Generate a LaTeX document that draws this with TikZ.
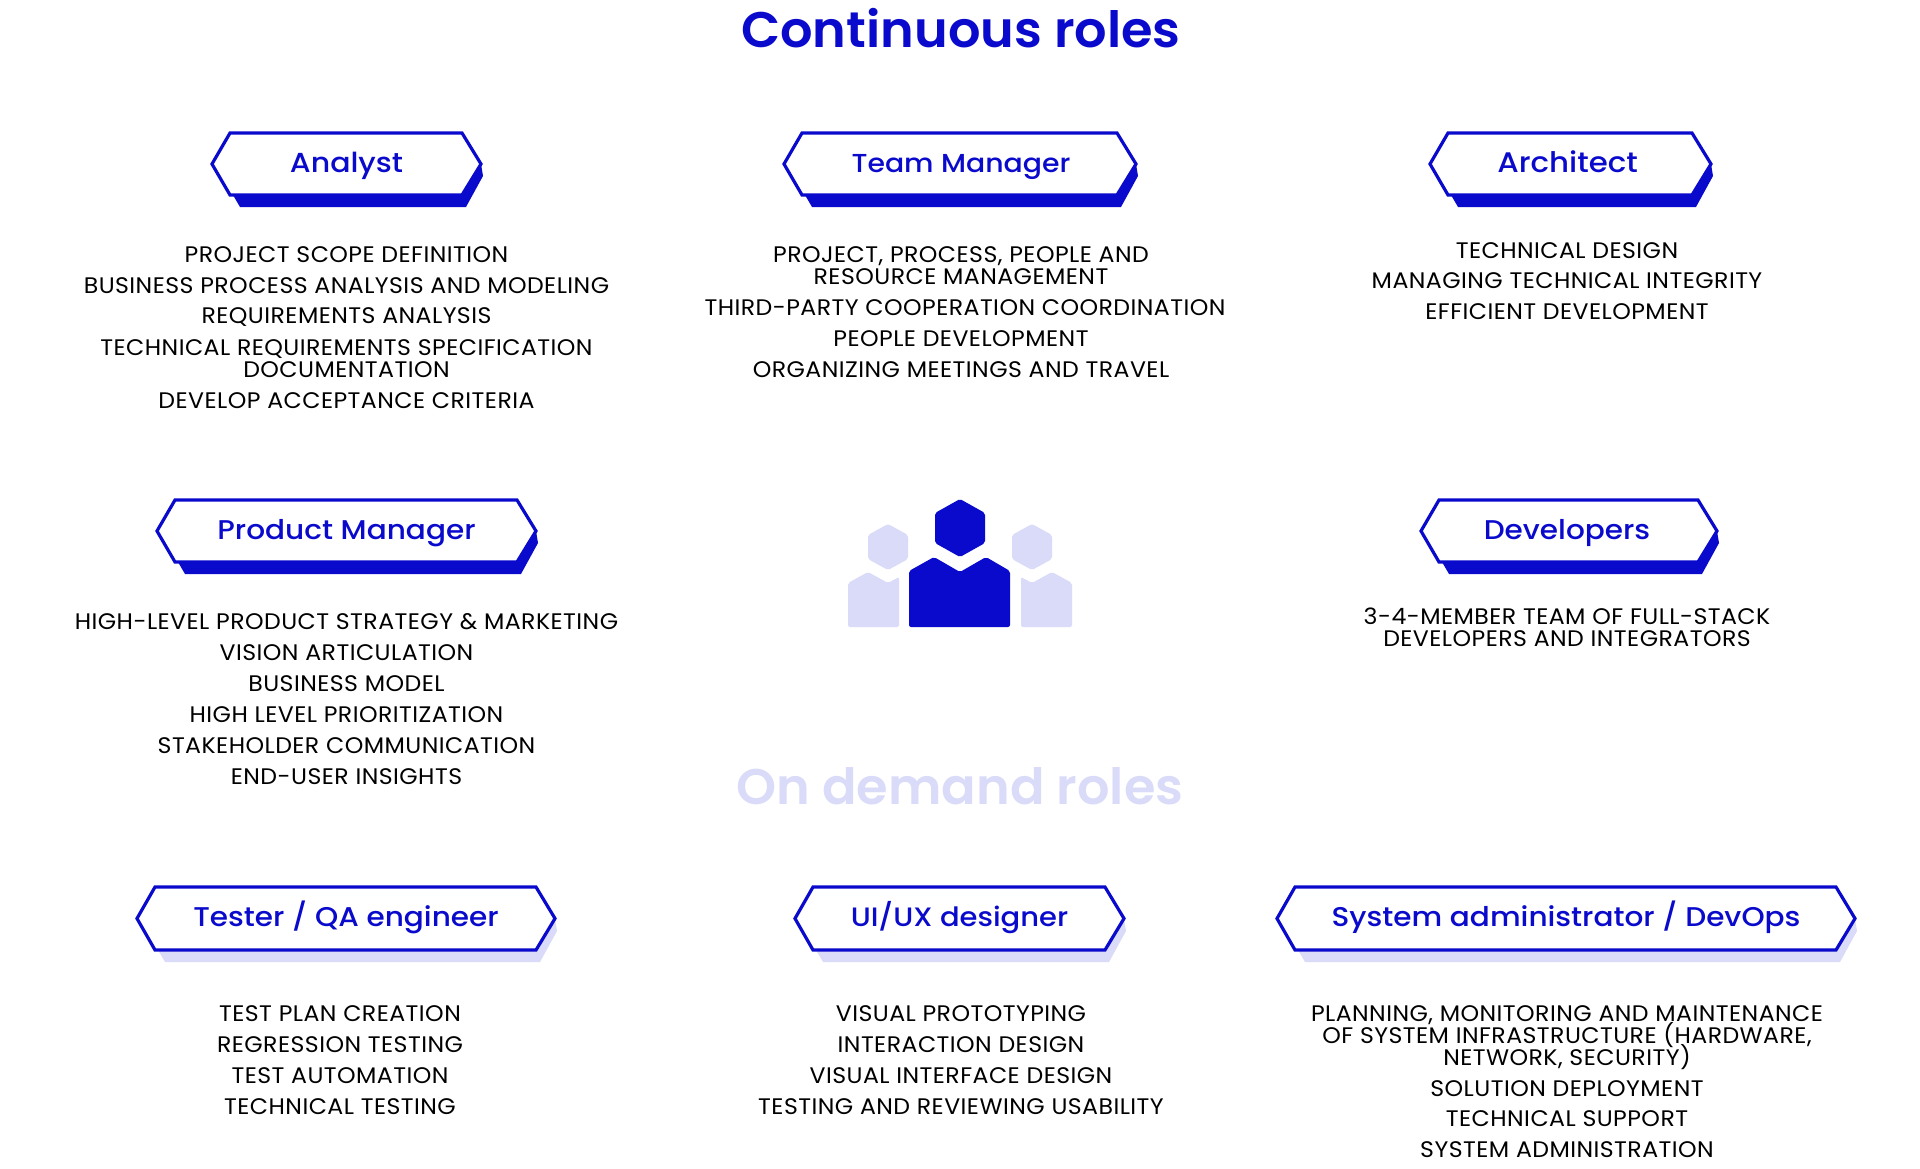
\documentclass[tikz,border=0pt]{standalone}
\usepackage{fontspec}
\setmainfont{Poppins}
\newfontfamily\itemf[FakeStretch=1.05,LetterSpace=2]{Poppins}
\newfontfamily\rolef[FakeStretch=1.09]{Poppins Medium}
\newfontfamily\headf[FakeStretch=1.02]{Poppins SemiBold}
\definecolor{rb}{HTML}{0A0ACC}
\definecolor{rl}{HTML}{D9DBF8}
\lineskiplimit=-20pt
\newcommand{\hexbox}[8]{% name left right top bottom shadow dx text
 \fill[#6] (#2+21,#5) -- (#2+28,#5+12) -- (#3-15,#5+12) -- (#3+2,#5-19) -- (#3,#5-31) -- cycle;
 \draw[rb,line width=3.2pt,fill=white,line join=miter] (#2,#4/2+#5/2) -- (#2+18,#4) -- (#3-19,#4) -- (#3,#4/2+#5/2) -- (#3-19,#5) -- (#2+18,#5) -- cycle;
 \node[role] (#1) at ({(#2+#3)/2+#7},{#4+39.5}) {#8};}
\newcommand{\rsize}[1]{\fontsize{#1}{30}\selectfont}
\tikzset{x=1pt,y=-1pt,
 role/.style={text=rb,font=\rolef\fontsize{27.1}{30}\selectfont,inner sep=0pt,anchor=base},
 item/.style={text=black,font=\itemf\fontsize{22.5}{22}\selectfont,align=center,inner sep=0pt,anchor=center},
 head/.style={text=#1,font=\headf\fontsize{50}{54}\selectfont,inner sep=0pt,anchor=center},
 ico/.style={fill=#1,rounded corners=2pt}}
\begin{document}
\begin{tikzpicture}
\useasboundingbox (0,0) rectangle (1920,1168);
\node[head=rb] (t1) at (961,28.5) {Continuous roles};
\node[head=rl] (t2) at (960,786) {On demand roles};
\hexbox{analyst}{212}{481}{133}{195}{rb}{0}{\rsize{27.5}Analyst}
\hexbox{team}{784}{1136}{133}{195}{rb}{1}{\rsize{26}Team Manager}
\hexbox{arch}{1430}{1711}{133}{195}{rb}{-3}{\rsize{28.3}Architect}
\hexbox{pm}{157}{536}{500}{562}{rb}{0}{Product Manager}
\hexbox{dev}{1421}{1717}{500}{562}{rb}{-2}{Developers}
\hexbox{qa}{137}{555}{887}{950}{rl}{0}{Tester / QA engineer}
\hexbox{ux}{795}{1124}{887}{950}{rl}{0}{\rsize{26.6}UI/UX designer}
\hexbox{sys}{1277}{1855}{887}{950}{rl}{0}{System administrator / DevOps}
% analyst
\node[item] (a1) at (346.5,255) {PROJECT SCOPE DEFINITION};
\node[item] (a2) at (346.5,286) {BUSINESS PROCESS ANALYSIS AND MODELING};
\node[item] (a3) at (346.5,317) {REQUIREMENTS ANALYSIS};
\node[item] (a4) at (346.5,359) {TECHNICAL REQUIREMENTS SPECIFICATION\\DOCUMENTATION};
\node[item] (a5) at (346.5,401) {DEVELOP ACCEPTANCE CRITERIA};
% team
\node[item] (b1) at (961,266) {PROJECT, PROCESS, PEOPLE AND\\RESOURCE MANAGEMENT};
\node[item] (b2) at (965,308) {THIRD-PARTY COOPERATION COORDINATION};
\node[item] (b3) at (961,339) {PEOPLE DEVELOPMENT};
\node[item] (b4) at (961,370) {ORGANIZING MEETINGS AND TRAVEL};
% architect
\node[item] (c1) at (1567,251) {TECHNICAL DESIGN};
\node[item] (c2) at (1567,281) {MANAGING TECHNICAL INTEGRITY};
\node[item] (c3) at (1567,312) {EFFICIENT DEVELOPMENT};
% pm
\node[item] (d1) at (346.5,622) {HIGH-LEVEL PRODUCT STRATEGY \& MARKETING};
\node[item] (d2) at (346.5,653) {VISION ARTICULATION};
\node[item] (d3) at (346.5,684) {BUSINESS MODEL};
\node[item] (d4) at (346.5,715) {HIGH LEVEL PRIORITIZATION};
\node[item] (d5) at (346.5,746) {STAKEHOLDER COMMUNICATION};
\node[item] (d6) at (346.5,777) {END-USER INSIGHTS};
% dev
\node[item] (e1) at (1567,627.5) {3-4-MEMBER TEAM OF FULL-STACK\\DEVELOPERS AND INTEGRATORS};
% qa
\node[item] (f1) at (340,1014) {TEST PLAN CREATION};
\node[item] (f2) at (340,1045) {REGRESSION TESTING};
\node[item] (f3) at (340,1076) {TEST AUTOMATION};
\node[item] (f4) at (340,1107) {TECHNICAL TESTING};
% ux
\node[item] (g1) at (961,1014) {VISUAL PROTOTYPING};
\node[item] (g2) at (961,1045) {INTERACTION DESIGN};
\node[item] (g3) at (961,1076) {VISUAL INTERFACE DESIGN};
\node[item] (g4) at (961,1107) {TESTING AND REVIEWING USABILITY};
% sys
\node[item] (h1) at (1567,1037.5) {PLANNING, MONITORING AND MAINTENANCE\\OF SYSTEM INFRASTRUCTURE (HARDWARE,\\NETWORK, SECURITY)};
\node[item] (h2) at (1567,1089) {SOLUTION DEPLOYMENT};
\node[item] (h3) at (1567,1119) {TECHNICAL SUPPORT};
\node[item] (h4) at (1567,1150) {SYSTEM ADMINISTRATION};
% icon
\fill[ico=rl] (888,524) -- (908,535) -- (908,559) -- (888,570) -- (868,559) -- (868,535) -- cycle;
\fill[ico=rl] (1032,524) -- (1052,535) -- (1052,559) -- (1032,570) -- (1012,559) -- (1012,535) -- cycle;
\fill[ico=rl] (848,583) -- (868,572) -- (888,583) -- (899,577) -- (899,627) -- (848,627) -- cycle;
\fill[ico=rl] (1072,583) -- (1052,572) -- (1032,583) -- (1021,577) -- (1021,627) -- (1072,627) -- cycle;
\fill[ico=rb] (960,499) -- (985,513) -- (985,543) -- (960,557) -- (935,543) -- (935,513) -- cycle;
\fill[ico=rb] (909,571) -- (934,557) -- (960,572) -- (986,557) -- (1010,571) -- (1010,627) -- (909,627) -- cycle;
\end{tikzpicture}
\end{document}
